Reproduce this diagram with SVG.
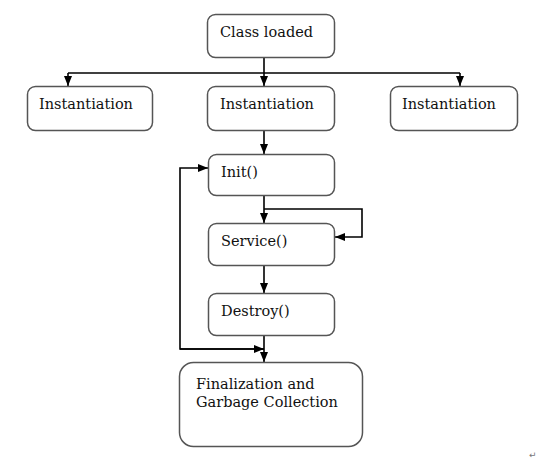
<svg xmlns="http://www.w3.org/2000/svg" width="543" height="463" viewBox="0 0 543 463">
<style>
.box{fill:#fff;stroke:#555;stroke-width:1.5}
.lbl{font-family:"DejaVu Serif","Liberation Serif",serif;font-size:14.5px;fill:#111}
.ln{fill:none;stroke:#000;stroke-width:1.6}
</style>
<defs>
<marker id="ah" markerUnits="userSpaceOnUse" markerWidth="10" markerHeight="10" viewBox="0 0 10 10" refX="10" refY="5" orient="auto">
<path d="M0,1 L10,5 L0,9 Z" fill="#000"/>
</marker>
</defs>
<rect width="543" height="463" fill="#fff"/>
<g id="connectors">
<path class="ln" d="M264,57 V86" marker-end="url(#ah)"/>
<path class="ln" d="M68,73 H460"/>
<path class="ln" d="M68,73 V86" marker-end="url(#ah)"/>
<path class="ln" d="M460,73 V86" marker-end="url(#ah)"/>
<path class="ln" d="M264,131 V154" marker-end="url(#ah)"/>
<path class="ln" d="M264,195 V223" marker-end="url(#ah)"/>
<path class="ln" d="M264,209 H362 V237 H335" marker-end="url(#ah)"/>
<path class="ln" d="M264,265 V293" marker-end="url(#ah)"/>
<path class="ln" d="M264,335 V362" marker-end="url(#ah)"/>
<path class="ln" d="M264,349 H180 V168 H208" marker-end="url(#ah)"/>
<path class="ln" d="M180,349 H264" marker-end="url(#ah)"/>
</g>
<g id="class-loaded"><rect class="box" x="207.5" y="14.5" width="127" height="43" rx="8"/><text class="lbl" x="220" y="37">Class loaded</text></g>
<g id="inst-left"><rect class="box" x="27.5" y="86.5" width="125" height="44" rx="8"/><text class="lbl" x="39" y="109">Instantiation</text></g>
<g id="inst-mid"><rect class="box" x="207.5" y="86.5" width="127" height="44" rx="8"/><text class="lbl" x="220" y="109">Instantiation</text></g>
<g id="inst-right"><rect class="box" x="390.5" y="86.5" width="127" height="44" rx="8"/><text class="lbl" x="402" y="109">Instantiation</text></g>
<g id="init"><rect class="box" x="208.5" y="154.5" width="126" height="41" rx="8"/><text class="lbl" x="221" y="177">Init()</text></g>
<g id="service"><rect class="box" x="208.5" y="223.5" width="126" height="42" rx="8"/><text class="lbl" x="221" y="246">Service()</text></g>
<g id="destroy"><rect class="box" x="208.5" y="293.5" width="126" height="42" rx="8"/><text class="lbl" x="221" y="316">Destroy()</text></g>
<g id="finalization"><rect class="box" x="179.5" y="362.5" width="183" height="84" rx="14"/><text class="lbl" x="196" y="389">Finalization and</text><text class="lbl" x="196" y="407">Garbage Collection</text></g>
<text x="529" y="458" font-family="DejaVu Sans,sans-serif" font-size="9" fill="#777">↵</text>
</svg>
